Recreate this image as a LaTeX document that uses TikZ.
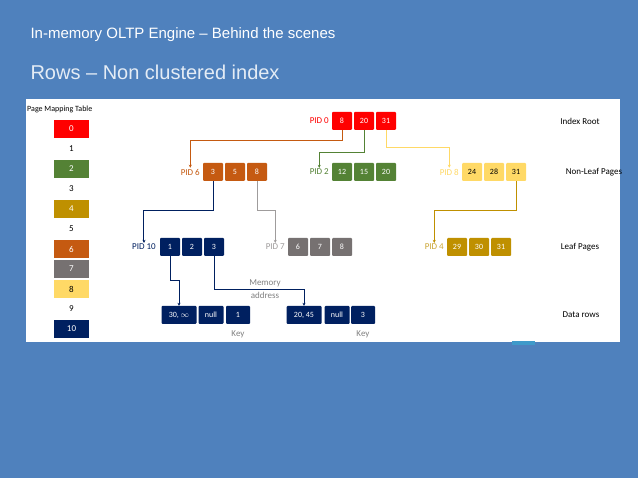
\documentclass[tikz,border=0pt]{standalone}
\usepackage{fontspec}
\setmainfont{Carlito}
\newfontfamily\titlefont{Liberation Sans}
\usetikzlibrary{positioning, arrows.meta}
\definecolor{slideblue}{HTML}{4F81BD}
\definecolor{pidred}{HTML}{FF0000}
\definecolor{pidgreen}{HTML}{548235}
\definecolor{pidorange}{HTML}{C55A11}
\definecolor{pidyellow}{HTML}{FFD966}
\definecolor{pidgold}{HTML}{BF9000}
\definecolor{pidgray}{HTML}{767171}
\definecolor{pidnavy}{HTML}{002060}

\begin{document}
\begin{tikzpicture}[x=1pt, y=-1pt,
        cell/.style={rectangle, rounded corners=1pt, minimum width=20pt, minimum height=18pt, inner sep=0pt, font=\fontsize{8}{9}\selectfont, text=white},
        map/.style={rectangle, minimum width=35pt, minimum height=18pt, inner sep=0pt, font=\fontsize{9}{10}\selectfont},
        pid/.style={font=\fontsize{9}{10}\selectfont, inner sep=1pt},
        level/.style={font=\fontsize{9}{10}\selectfont, anchor=center},
        link/.style={-{Stealth[length=3pt, width=3pt]}, line width=1pt}
    ]
    \fill[slideblue] (0,0) rectangle (638,478);
    \fill[white] (26,99) rectangle (620,342);
    \fill[slideblue!80!cyan] (512,341) rectangle (535,345);

    % Titles
    \node[anchor=west, text=white, font=\titlefont\fontsize{15}{18}\selectfont] (title) at (27,35) {In-memory OLTP Engine – Behind the scenes};
    \node[anchor=west, text=white!85!slideblue, font=\titlefont\fontsize{20}{24}\selectfont] (subtitle) at (27,72) {Rows – Non clustered index};

    % Page mapping table
    \node[anchor=west, font=\fontsize{8}{9}\selectfont, inner sep=0pt] (maptitle) at (27,109) {Page Mapping Table};
    \foreach \i/\c/\t in {0/pidred/white, 1/white/black, 2/pidgreen/white, 3/white/black, 4/pidgold/white, 5/white/black,
                          6/pidorange/white, 7/pidgray/white, 8/pidyellow/black, 9/white/black, 10/pidnavy/white}
        \node[map, fill=\c, text=\t] (m\i) at (71.5,129+20*\i) {\i};

    % Index root
    \node[pid, text=pidred, anchor=east] (pid0) at (330,121) {PID 0};
    \node[cell, fill=pidred] (r8) at (342,121) {8};
    \node[cell, fill=pidred] (r20) at (364,121) {20};
    \node[cell, fill=pidred] (r31) at (386,121) {31};

    % Non-leaf pages
    \node[pid, text=pidorange, anchor=east] (pid6) at (201,172) {PID 6};
    \node[cell, fill=pidorange] (n6a) at (213,172) {3};
    \node[cell, fill=pidorange] (n6b) at (235,172) {5};
    \node[cell, fill=pidorange] (n6c) at (257,172) {8};
    \node[pid, text=pidgreen, anchor=east] (pid2) at (330,172) {PID 2};
    \node[cell, fill=pidgreen] (n2a) at (342,172) {12};
    \node[cell, fill=pidgreen] (n2b) at (364,172) {15};
    \node[cell, fill=pidgreen] (n2c) at (386,172) {20};
    \node[pid, text=pidyellow, anchor=east] (pid8) at (460,172) {PID 8};
    \node[cell, fill=pidyellow, text=black] (n8a) at (472,172) {24};
    \node[cell, fill=pidyellow, text=black] (n8b) at (494,172) {28};
    \node[cell, fill=pidyellow, text=black] (n8c) at (516,172) {31};

    % Leaf pages
    \node[pid, text=pidnavy, anchor=east] (pid10) at (157,247) {PID 10};
    \node[cell, fill=pidnavy] (l10a) at (170,247) {1};
    \node[cell, fill=pidnavy] (l10b) at (192,247) {2};
    \node[cell, fill=pidnavy] (l10c) at (214,247) {3};
    \node[pid, text=pidgray!70, anchor=east] (pid7) at (286,247) {PID 7};
    \node[cell, fill=pidgray] (l7a) at (298,247) {6};
    \node[cell, fill=pidgray] (l7b) at (320,247) {7};
    \node[cell, fill=pidgray] (l7c) at (342,247) {8};
    \node[pid, text=pidgold!80, anchor=east] (pid4) at (445,247) {PID 4};
    \node[cell, fill=pidgold] (l4a) at (457,247) {29};
    \node[cell, fill=pidgold] (l4b) at (479,247) {30};
    \node[cell, fill=pidgold] (l4c) at (501,247) {31};

    % Data rows
    \node[cell, fill=pidnavy, minimum width=35pt] (d1a) at (179,315) {30, $\infty$};
    \node[cell, fill=pidnavy, minimum width=25pt] (d1b) at (211,315) {null};
    \node[cell, fill=pidnavy, minimum width=24pt] (d1c) at (238,315) {1};
    \node[cell, fill=pidnavy, minimum width=35pt] (d2a) at (304,315) {20, 45};
    \node[cell, fill=pidnavy, minimum width=25pt] (d2b) at (337,315) {null};
    \node[cell, fill=pidnavy, minimum width=24pt] (d2c) at (363,315) {3};
    \node[level, text=gray] (key1) at (238,334) {Key};
    \node[level, text=gray] (key2) at (363,334) {Key};
    \node[level, text=gray, align=center, font=\fontsize{9}{13}\selectfont] (memaddr) at (265,289) {Memory\\address};

    % Level labels
    \node[level] (lroot) at (580,121) {Index Root};
    \node[level] (lnonleaf) at (594,172) {Non-Leaf Pages};
    \node[level] (lleaf) at (580,247) {Leaf Pages};
    \node[level] (lrows) at (581,315) {Data rows};

    % Arrows
    \draw[link, pidorange] (r8.south) -- ++(0,10) -| (pid6.north);
    \draw[link, pidgreen] (r20.south) -- ++(0,22) -| (pid2.north);
    \draw[link, pidyellow] (r31.south) -- ++(0,17) -| (pid8.north);
    \draw[link, pidnavy] (n6a.south) -- ++(0,29) -| (pid10.north);
    \draw[link, pidgray!70] (n6c.south) -- ++(0,29) -| (pid7.north);
    \draw[link, pidgold] (n8c.south) -- ++(0,29) -| (pid4.north);
    \draw[link, pidnavy] (l10a.south) -- ++(0,24) -| (d1a.north);
    \draw[link, pidnavy] (l10c.south) -- ++(0,33) -| (d2a.north);
\end{tikzpicture}
\end{document}
